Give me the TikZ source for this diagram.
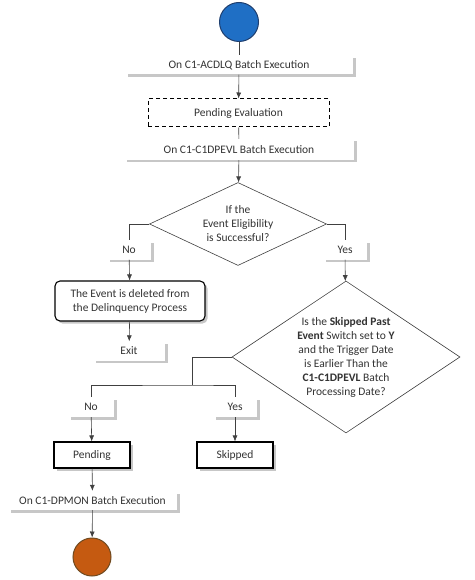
\documentclass[tikz,border=0pt]{standalone}
\usepackage{fontspec}
\setmainfont{Carlito}
\usetikzlibrary{shapes.geometric,shadows,arrows.meta}
\definecolor{startblue}{HTML}{1F6FC5}
\definecolor{startedge}{HTML}{1F3F6F}
\definecolor{endorange}{HTML}{C55A11}
\definecolor{endedge}{HTML}{6F4A20}
\definecolor{linegray}{HTML}{404040}
\definecolor{textgray}{HTML}{333333}
\tikzset{
  shad/.style={drop shadow={shadow xshift=2.5pt, shadow yshift=-2.5pt, fill=black, opacity=0.22}},
  lbl/.style={shad, fill=white, inner sep=0pt, minimum height=19pt},
  statebox/.style={shad, draw=black, line width=1.1pt, fill=white, inner sep=0pt, minimum width=76pt, minimum height=26pt},
  dec/.style={diamond, draw=linegray, line width=0.6pt, fill=white, inner sep=0pt, align=center},
  conn/.style={draw=linegray, line width=0.6pt},
  arr/.style={conn, -{Latex[length=6pt,width=5pt]}}
}
\begin{document}
\begin{tikzpicture}[x=1pt, y=-1pt, font=\fontsize{11.5}{14}\selectfont, text=textgray]
    % Рамка рисунка (размеры 474x580)
    \useasboundingbox (0,0) rectangle (474,580);

    % Начало
    \node[circle, draw=startedge, line width=1pt, fill=startblue, minimum size=39pt, inner sep=0pt] (start) at (239,22) {};

    % Верхняя часть
    \node[lbl, minimum width=228pt] (acdlq) at (239,65) {On C1-ACDLQ Batch Execution};
    \node[draw=black, line width=1pt, dash pattern=on 4pt off 3pt, fill=white, inner sep=0pt, minimum width=181pt, minimum height=28pt] (pendeval) at (238.5,113) {Pending Evaluation};
    \node[lbl, minimum width=230pt, minimum height=21pt] (dpevl) at (239,149.5) {On C1-C1DPEVL Batch Execution};

    % Первое условие
    \node[dec, shape aspect=2.13, minimum width=177pt, minimum height=83pt] (dec1) at (238,224) {If the\\Event Eligibility\\is Successful?};
    \node[lbl, minimum width=44pt] (no1) at (129,250) {No};
    \node[lbl, minimum width=44pt] (yes1) at (345,250) {Yes};
    \node[shad, draw=black, line width=1.1pt, rounded corners=5pt, fill=white, align=center, inner sep=0pt, minimum width=150pt, minimum height=40pt] (delete) at (130,301) {The Event is deleted from\\the Delinquency Process};
    \node[lbl, minimum width=72pt] (exit) at (129,351) {Exit};

    % Второе условие
    \node[dec, shape aspect=1.5, minimum width=228pt, minimum height=152pt] (dec2) at (346,357) {Is the \textbf{Skipped Past}\\\textbf{Event} Switch set to \textbf{Y}\\and the Trigger Date\\is Earlier Than the\\\textbf{C1-C1DPEVL} Batch\\Processing Date?};
    \coordinate (split) at (192,385);
    \node[lbl, minimum width=46pt, minimum height=20pt] (no2) at (91,407) {No};
    \node[lbl, minimum width=44pt, minimum height=20pt] (yes2) at (235,407) {Yes};
    \node[statebox] (pending) at (92,455) {Pending};
    \node[statebox] (skipped) at (235,455) {Skipped};
    \node[lbl, minimum width=169pt] (dpmon) at (92.5,500.5) {On C1-DPMON Batch Execution};

    % Конец
    \node[circle, draw=endedge, line width=1pt, fill=endorange, minimum size=38pt, inner sep=0pt] (finish) at (92,557) {};

    % Линии без стрелок
    \draw[conn] (start) -- (acdlq);
    \draw[conn] (pendeval) -- (dpevl);
    \draw[conn] (dec1.west) -| (no1.north);
    \draw[conn] (dec1.east) -| (yes1.north);
    \draw[conn] (dec2.west) -| (split);
    \draw[conn] (no2.north) |- (split) -| (yes2.north);

    % Стрелки
    \foreach \a/\b in {acdlq/pendeval, dpevl/dec1, no1/delete, delete/exit, yes1/dec2, no2/pending, yes2/skipped, pending/dpmon, dpmon/finish} {
        \draw[arr] (\a) -- (\b);
    }
\end{tikzpicture}
\end{document}
